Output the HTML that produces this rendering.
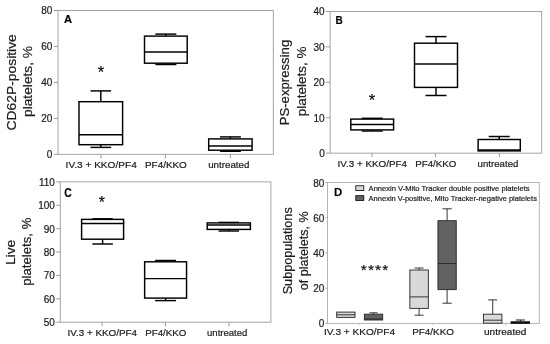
<!DOCTYPE html>
<html><head><meta charset="utf-8"><title>Figure</title>
<style>
html,body{margin:0;padding:0;background:#fff;}
body{width:550px;height:344px;overflow:hidden;}
svg{display:block;font-family:"Liberation Sans", sans-serif;}
text{stroke:#1a1a1a;stroke-width:0.2px;}
</style></head>
<body>
<svg width="550" height="344" viewBox="0 0 550 344">
<rect x="0" y="0" width="550" height="344" fill="#ffffff"/>
<rect x="58.00" y="10.50" width="215.30" height="143.80" fill="none" stroke="#9a9a9a" stroke-width="0.9"/>
<line x1="54.00" y1="154.30" x2="58.00" y2="154.30" stroke="#9a9a9a" stroke-width="1.0"/>
<text x="52.40" y="157.90" font-size="10" text-anchor="end" font-weight="normal" fill="#1a1a1a">0</text>
<line x1="54.00" y1="118.35" x2="58.00" y2="118.35" stroke="#9a9a9a" stroke-width="1.0"/>
<text x="52.40" y="121.95" font-size="10" text-anchor="end" font-weight="normal" fill="#1a1a1a">20</text>
<line x1="54.00" y1="82.40" x2="58.00" y2="82.40" stroke="#9a9a9a" stroke-width="1.0"/>
<text x="52.40" y="86.00" font-size="10" text-anchor="end" font-weight="normal" fill="#1a1a1a">40</text>
<line x1="54.00" y1="46.45" x2="58.00" y2="46.45" stroke="#9a9a9a" stroke-width="1.0"/>
<text x="52.40" y="50.05" font-size="10" text-anchor="end" font-weight="normal" fill="#1a1a1a">60</text>
<line x1="54.00" y1="10.50" x2="58.00" y2="10.50" stroke="#9a9a9a" stroke-width="1.0"/>
<text x="52.40" y="14.10" font-size="10" text-anchor="end" font-weight="normal" fill="#1a1a1a">80</text>
<text x="64.10" y="22.50" font-size="11.2" text-anchor="start" font-weight="bold" fill="#000">A</text>
<text x="16.30" y="82.30" font-size="13.2" text-anchor="middle" fill="#1a1a1a" transform="rotate(-90 16.30 82.30)" textLength="96.20" lengthAdjust="spacingAndGlyphs">CD62P-positive</text>
<text x="32.50" y="81.45" font-size="13.2" text-anchor="middle" fill="#1a1a1a" transform="rotate(-90 32.50 81.45)" textLength="71.10" lengthAdjust="spacingAndGlyphs">platelets, %</text>
<line x1="101.00" y1="154.30" x2="101.00" y2="158.30" stroke="#9a9a9a" stroke-width="1.0"/>
<line x1="165.40" y1="154.30" x2="165.40" y2="158.30" stroke="#9a9a9a" stroke-width="1.0"/>
<line x1="230.40" y1="154.30" x2="230.40" y2="158.30" stroke="#9a9a9a" stroke-width="1.0"/>
<text x="101.20" y="168.20" font-size="9.6" text-anchor="middle" fill="#1a1a1a" textLength="71.20" lengthAdjust="spacingAndGlyphs">IV.3 + KKO/PF4</text>
<text x="165.90" y="168.20" font-size="9.6" text-anchor="middle" fill="#1a1a1a" textLength="41.80" lengthAdjust="spacingAndGlyphs">PF4/KKO</text>
<text x="228.80" y="168.20" font-size="9.6" text-anchor="middle" fill="#1a1a1a" textLength="41.20" lengthAdjust="spacingAndGlyphs">untreated</text>
<line x1="100.80" y1="90.90" x2="100.80" y2="101.70" stroke="#000" stroke-width="1.45"/>
<line x1="90.50" y1="90.90" x2="111.10" y2="90.90" stroke="#000" stroke-width="1.45"/>
<line x1="100.80" y1="144.70" x2="100.80" y2="147.40" stroke="#000" stroke-width="1.45"/>
<line x1="90.50" y1="147.40" x2="111.10" y2="147.40" stroke="#000" stroke-width="1.45"/>
<rect x="79.00" y="101.70" width="43.60" height="43.00" fill="none" stroke="#000" stroke-width="1.45"/>
<line x1="79.00" y1="134.80" x2="122.60" y2="134.80" stroke="#000" stroke-width="1.45"/>
<line x1="165.85" y1="34.10" x2="165.85" y2="36.10" stroke="#000" stroke-width="1.45"/>
<line x1="155.35" y1="34.10" x2="176.35" y2="34.10" stroke="#000" stroke-width="1.45"/>
<line x1="165.85" y1="63.20" x2="165.85" y2="64.50" stroke="#000" stroke-width="1.45"/>
<line x1="155.35" y1="64.50" x2="176.35" y2="64.50" stroke="#000" stroke-width="1.45"/>
<rect x="144.50" y="36.10" width="42.70" height="27.10" fill="none" stroke="#000" stroke-width="1.45"/>
<line x1="144.50" y1="51.90" x2="187.20" y2="51.90" stroke="#000" stroke-width="1.45"/>
<line x1="230.40" y1="136.90" x2="230.40" y2="138.90" stroke="#000" stroke-width="1.45"/>
<line x1="219.90" y1="136.90" x2="240.90" y2="136.90" stroke="#000" stroke-width="1.45"/>
<line x1="230.40" y1="150.20" x2="230.40" y2="151.30" stroke="#000" stroke-width="1.45"/>
<line x1="219.90" y1="151.30" x2="240.90" y2="151.30" stroke="#000" stroke-width="1.45"/>
<rect x="208.70" y="138.90" width="43.40" height="11.30" fill="none" stroke="#000" stroke-width="1.45"/>
<line x1="208.70" y1="146.00" x2="252.10" y2="146.00" stroke="#000" stroke-width="1.45"/>
<text x="100.90" y="77.90" font-size="16.5" text-anchor="middle" font-weight="normal" fill="#000" stroke="none">*</text>
<rect x="330.10" y="11.45" width="211.60" height="141.70" fill="none" stroke="#9a9a9a" stroke-width="0.9"/>
<line x1="326.10" y1="153.15" x2="330.10" y2="153.15" stroke="#9a9a9a" stroke-width="1.0"/>
<text x="324.70" y="156.95" font-size="10" text-anchor="end" font-weight="normal" fill="#1a1a1a">0</text>
<line x1="326.10" y1="117.72" x2="330.10" y2="117.72" stroke="#9a9a9a" stroke-width="1.0"/>
<text x="324.70" y="121.52" font-size="10" text-anchor="end" font-weight="normal" fill="#1a1a1a">10</text>
<line x1="326.10" y1="82.30" x2="330.10" y2="82.30" stroke="#9a9a9a" stroke-width="1.0"/>
<text x="324.70" y="86.10" font-size="10" text-anchor="end" font-weight="normal" fill="#1a1a1a">20</text>
<line x1="326.10" y1="46.88" x2="330.10" y2="46.88" stroke="#9a9a9a" stroke-width="1.0"/>
<text x="324.70" y="50.67" font-size="10" text-anchor="end" font-weight="normal" fill="#1a1a1a">30</text>
<line x1="326.10" y1="11.45" x2="330.10" y2="11.45" stroke="#9a9a9a" stroke-width="1.0"/>
<text x="324.70" y="15.25" font-size="10" text-anchor="end" font-weight="normal" fill="#1a1a1a">40</text>
<text x="335.60" y="23.80" font-size="11.2" text-anchor="start" font-weight="bold" fill="#000" textLength="7.2" lengthAdjust="spacingAndGlyphs">B</text>
<text x="289.50" y="82.55" font-size="13.2" text-anchor="middle" fill="#1a1a1a" transform="rotate(-90 289.50 82.55)" textLength="85.50" lengthAdjust="spacingAndGlyphs">PS-expressing</text>
<text x="305.90" y="81.40" font-size="13.2" text-anchor="middle" fill="#1a1a1a" transform="rotate(-90 305.90 81.40)" textLength="69.60" lengthAdjust="spacingAndGlyphs">platelets, %</text>
<line x1="372.00" y1="153.15" x2="372.00" y2="157.15" stroke="#9a9a9a" stroke-width="1.0"/>
<line x1="435.40" y1="153.15" x2="435.40" y2="157.15" stroke="#9a9a9a" stroke-width="1.0"/>
<line x1="499.40" y1="153.15" x2="499.40" y2="157.15" stroke="#9a9a9a" stroke-width="1.0"/>
<text x="372.30" y="166.50" font-size="9.6" text-anchor="middle" fill="#1a1a1a" textLength="69.40" lengthAdjust="spacingAndGlyphs">IV.3 + KKO/PF4</text>
<text x="435.80" y="166.50" font-size="9.6" text-anchor="middle" fill="#1a1a1a" textLength="41.20" lengthAdjust="spacingAndGlyphs">PF4/KKO</text>
<text x="498.00" y="166.50" font-size="9.6" text-anchor="middle" fill="#1a1a1a" textLength="40.80" lengthAdjust="spacingAndGlyphs">untreated</text>
<line x1="372.20" y1="118.30" x2="372.20" y2="119.10" stroke="#000" stroke-width="1.45"/>
<line x1="361.70" y1="118.30" x2="382.70" y2="118.30" stroke="#000" stroke-width="1.45"/>
<line x1="372.20" y1="129.90" x2="372.20" y2="131.00" stroke="#000" stroke-width="1.45"/>
<line x1="361.70" y1="131.00" x2="382.70" y2="131.00" stroke="#000" stroke-width="1.45"/>
<rect x="350.80" y="119.10" width="42.80" height="10.80" fill="none" stroke="#000" stroke-width="1.45"/>
<line x1="350.80" y1="124.40" x2="393.60" y2="124.40" stroke="#000" stroke-width="1.45"/>
<line x1="436.00" y1="36.60" x2="436.00" y2="43.20" stroke="#000" stroke-width="1.45"/>
<line x1="425.50" y1="36.60" x2="446.50" y2="36.60" stroke="#000" stroke-width="1.45"/>
<line x1="436.00" y1="87.40" x2="436.00" y2="95.50" stroke="#000" stroke-width="1.45"/>
<line x1="425.50" y1="95.50" x2="446.50" y2="95.50" stroke="#000" stroke-width="1.45"/>
<rect x="414.50" y="43.20" width="43.00" height="44.20" fill="none" stroke="#000" stroke-width="1.45"/>
<line x1="414.50" y1="64.00" x2="457.50" y2="64.00" stroke="#000" stroke-width="1.45"/>
<line x1="499.20" y1="136.50" x2="499.20" y2="139.50" stroke="#000" stroke-width="1.45"/>
<line x1="488.70" y1="136.50" x2="509.70" y2="136.50" stroke="#000" stroke-width="1.45"/>
<rect x="478.10" y="139.50" width="42.20" height="11.40" fill="none" stroke="#000" stroke-width="1.45"/>
<line x1="478.10" y1="150.00" x2="520.30" y2="150.00" stroke="#000" stroke-width="1.45"/>
<text x="372.00" y="105.70" font-size="16.5" text-anchor="middle" font-weight="normal" fill="#000" stroke="none">*</text>
<rect x="60.30" y="181.90" width="210.60" height="140.30" fill="none" stroke="#9a9a9a" stroke-width="0.9"/>
<line x1="56.30" y1="322.20" x2="60.30" y2="322.20" stroke="#9a9a9a" stroke-width="1.0"/>
<text x="54.90" y="326.10" font-size="10" text-anchor="end" font-weight="normal" fill="#1a1a1a">50</text>
<line x1="56.30" y1="298.82" x2="60.30" y2="298.82" stroke="#9a9a9a" stroke-width="1.0"/>
<text x="54.90" y="302.72" font-size="10" text-anchor="end" font-weight="normal" fill="#1a1a1a">60</text>
<line x1="56.30" y1="275.43" x2="60.30" y2="275.43" stroke="#9a9a9a" stroke-width="1.0"/>
<text x="54.90" y="279.33" font-size="10" text-anchor="end" font-weight="normal" fill="#1a1a1a">70</text>
<line x1="56.30" y1="252.05" x2="60.30" y2="252.05" stroke="#9a9a9a" stroke-width="1.0"/>
<text x="54.90" y="255.95" font-size="10" text-anchor="end" font-weight="normal" fill="#1a1a1a">80</text>
<line x1="56.30" y1="228.67" x2="60.30" y2="228.67" stroke="#9a9a9a" stroke-width="1.0"/>
<text x="54.90" y="232.57" font-size="10" text-anchor="end" font-weight="normal" fill="#1a1a1a">90</text>
<line x1="56.30" y1="205.28" x2="60.30" y2="205.28" stroke="#9a9a9a" stroke-width="1.0"/>
<text x="54.90" y="209.18" font-size="10" text-anchor="end" font-weight="normal" fill="#1a1a1a">100</text>
<line x1="56.30" y1="181.90" x2="60.30" y2="181.90" stroke="#9a9a9a" stroke-width="1.0"/>
<text x="54.90" y="185.80" font-size="10" text-anchor="end" font-weight="normal" fill="#1a1a1a">110</text>
<text x="64.30" y="197.10" font-size="12" text-anchor="start" font-weight="bold" fill="#000" textLength="7.5" lengthAdjust="spacingAndGlyphs">C</text>
<text x="14.80" y="252.40" font-size="13.2" text-anchor="middle" fill="#1a1a1a" transform="rotate(-90 14.80 252.40)" textLength="25.40" lengthAdjust="spacingAndGlyphs">Live</text>
<text x="31.10" y="251.70" font-size="13.2" text-anchor="middle" fill="#1a1a1a" transform="rotate(-90 31.10 251.70)" textLength="68.20" lengthAdjust="spacingAndGlyphs">platelets, %</text>
<line x1="102.00" y1="322.20" x2="102.00" y2="326.20" stroke="#9a9a9a" stroke-width="1.0"/>
<line x1="165.40" y1="322.20" x2="165.40" y2="326.20" stroke="#9a9a9a" stroke-width="1.0"/>
<line x1="229.00" y1="322.20" x2="229.00" y2="326.20" stroke="#9a9a9a" stroke-width="1.0"/>
<text x="102.30" y="335.80" font-size="9.6" text-anchor="middle" fill="#1a1a1a" textLength="69.40" lengthAdjust="spacingAndGlyphs">IV.3 + KKO/PF4</text>
<text x="165.80" y="335.80" font-size="9.6" text-anchor="middle" fill="#1a1a1a" textLength="41.20" lengthAdjust="spacingAndGlyphs">PF4/KKO</text>
<text x="227.20" y="335.80" font-size="9.6" text-anchor="middle" fill="#1a1a1a" textLength="40.40" lengthAdjust="spacingAndGlyphs">untreated</text>
<line x1="102.60" y1="218.80" x2="102.60" y2="219.40" stroke="#000" stroke-width="1.45"/>
<line x1="92.35" y1="218.80" x2="112.85" y2="218.80" stroke="#000" stroke-width="1.45"/>
<line x1="102.60" y1="239.20" x2="102.60" y2="244.00" stroke="#000" stroke-width="1.45"/>
<line x1="92.35" y1="244.00" x2="112.85" y2="244.00" stroke="#000" stroke-width="1.45"/>
<rect x="81.60" y="219.40" width="42.00" height="19.80" fill="none" stroke="#000" stroke-width="1.45"/>
<line x1="81.60" y1="223.40" x2="123.60" y2="223.40" stroke="#000" stroke-width="1.45"/>
<line x1="165.60" y1="260.50" x2="165.60" y2="261.80" stroke="#000" stroke-width="1.45"/>
<line x1="155.10" y1="260.50" x2="176.10" y2="260.50" stroke="#000" stroke-width="1.45"/>
<line x1="165.60" y1="298.10" x2="165.60" y2="300.60" stroke="#000" stroke-width="1.45"/>
<line x1="155.10" y1="300.60" x2="176.10" y2="300.60" stroke="#000" stroke-width="1.45"/>
<rect x="144.65" y="261.80" width="41.90" height="36.30" fill="none" stroke="#000" stroke-width="1.45"/>
<line x1="144.65" y1="278.60" x2="186.55" y2="278.60" stroke="#000" stroke-width="1.45"/>
<line x1="228.80" y1="222.40" x2="228.80" y2="222.90" stroke="#000" stroke-width="1.45"/>
<line x1="218.55" y1="222.40" x2="239.05" y2="222.40" stroke="#000" stroke-width="1.45"/>
<line x1="228.80" y1="229.40" x2="228.80" y2="231.00" stroke="#000" stroke-width="1.45"/>
<line x1="218.55" y1="231.00" x2="239.05" y2="231.00" stroke="#000" stroke-width="1.45"/>
<rect x="207.20" y="222.90" width="43.20" height="6.50" fill="none" stroke="#000" stroke-width="1.45"/>
<line x1="207.20" y1="225.00" x2="250.40" y2="225.00" stroke="#000" stroke-width="1.45"/>
<text x="101.90" y="207.90" font-size="15.8" text-anchor="middle" font-weight="normal" fill="#000" stroke="none">*</text>
<rect x="327.50" y="182.50" width="211.80" height="140.90" fill="none" stroke="#b4b4b4" stroke-width="1.0"/>
<line x1="325.30" y1="323.40" x2="327.50" y2="323.40" stroke="#a8a8a8" stroke-width="1.0"/>
<text x="324.40" y="327.40" font-size="10" text-anchor="end" font-weight="normal" fill="#1a1a1a">0</text>
<line x1="325.30" y1="288.17" x2="327.50" y2="288.17" stroke="#a8a8a8" stroke-width="1.0"/>
<text x="324.40" y="292.17" font-size="10" text-anchor="end" font-weight="normal" fill="#1a1a1a">20</text>
<line x1="325.30" y1="252.95" x2="327.50" y2="252.95" stroke="#a8a8a8" stroke-width="1.0"/>
<text x="324.40" y="256.95" font-size="10" text-anchor="end" font-weight="normal" fill="#1a1a1a">40</text>
<line x1="325.30" y1="217.72" x2="327.50" y2="217.72" stroke="#a8a8a8" stroke-width="1.0"/>
<text x="324.40" y="221.72" font-size="10" text-anchor="end" font-weight="normal" fill="#1a1a1a">60</text>
<line x1="325.30" y1="182.50" x2="327.50" y2="182.50" stroke="#a8a8a8" stroke-width="1.0"/>
<text x="324.40" y="186.50" font-size="10" text-anchor="end" font-weight="normal" fill="#1a1a1a">80</text>
<text x="334.00" y="195.90" font-size="11.4" text-anchor="start" font-weight="bold" fill="#000">D</text>
<text x="292.50" y="250.80" font-size="13.2" text-anchor="middle" fill="#1a1a1a" transform="rotate(-90 292.50 250.80)" textLength="87.00" lengthAdjust="spacingAndGlyphs">Subpopulations</text>
<text x="308.30" y="250.85" font-size="13.2" text-anchor="middle" fill="#1a1a1a" transform="rotate(-90 308.30 250.85)" textLength="78.90" lengthAdjust="spacingAndGlyphs">of platelets, %</text>
<line x1="359.00" y1="323.40" x2="359.00" y2="325.40" stroke="#b0b0b0" stroke-width="0.8"/>
<line x1="433.00" y1="323.40" x2="433.00" y2="325.40" stroke="#b0b0b0" stroke-width="0.8"/>
<line x1="506.00" y1="323.40" x2="506.00" y2="325.40" stroke="#b0b0b0" stroke-width="0.8"/>
<text x="359.50" y="335.40" font-size="9.9" text-anchor="middle" fill="#1a1a1a" textLength="71.00" lengthAdjust="spacingAndGlyphs">IV.3 + KKO/PF4</text>
<text x="433.10" y="335.40" font-size="9.9" text-anchor="middle" fill="#1a1a1a" textLength="41.80" lengthAdjust="spacingAndGlyphs">PF4/KKO</text>
<text x="505.20" y="335.40" font-size="9.9" text-anchor="middle" fill="#1a1a1a" textLength="42.40" lengthAdjust="spacingAndGlyphs">untreated</text>
<rect x="355.80" y="185.80" width="8.00" height="4.80" fill="#d9d9d9" stroke="#000" stroke-width="0.8"/>
<rect x="355.80" y="195.70" width="8.00" height="4.80" fill="#626262" stroke="#000" stroke-width="0.8"/>
<text x="368.60" y="191.00" font-size="7.9" text-anchor="start" font-weight="normal" fill="#1a1a1a" textLength="161.0" lengthAdjust="spacingAndGlyphs" stroke="none">Annexin V-Mito Tracker double positive platelets</text>
<text x="368.60" y="200.70" font-size="7.9" text-anchor="start" font-weight="normal" fill="#1a1a1a" textLength="168.3" lengthAdjust="spacingAndGlyphs" stroke="none">Annexin V-positive, Mito Tracker-negative platelets</text>
<rect x="336.70" y="312.10" width="18.30" height="5.30" fill="#d9d9d9" stroke="#2e2e2e" stroke-width="0.95"/>
<line x1="336.70" y1="314.80" x2="355.00" y2="314.80" stroke="#2e2e2e" stroke-width="0.95"/>
<line x1="373.50" y1="312.80" x2="373.50" y2="314.20" stroke="#2a2a2a" stroke-width="0.95"/>
<line x1="369.40" y1="312.80" x2="377.60" y2="312.80" stroke="#2a2a2a" stroke-width="0.95"/>
<rect x="364.35" y="314.20" width="18.30" height="5.80" fill="#626262" stroke="#2a2a2a" stroke-width="0.95"/>
<line x1="364.35" y1="319.00" x2="382.65" y2="319.00" stroke="#2a2a2a" stroke-width="0.95"/>
<line x1="419.10" y1="268.00" x2="419.10" y2="270.00" stroke="#2e2e2e" stroke-width="0.95"/>
<line x1="414.60" y1="268.00" x2="423.60" y2="268.00" stroke="#2e2e2e" stroke-width="0.95"/>
<line x1="419.10" y1="308.40" x2="419.10" y2="315.20" stroke="#2e2e2e" stroke-width="0.95"/>
<line x1="414.60" y1="315.20" x2="423.60" y2="315.20" stroke="#2e2e2e" stroke-width="0.95"/>
<rect x="409.85" y="270.00" width="18.50" height="38.40" fill="#d9d9d9" stroke="#2e2e2e" stroke-width="0.95"/>
<line x1="409.85" y1="296.90" x2="428.35" y2="296.90" stroke="#2e2e2e" stroke-width="0.95"/>
<line x1="447.10" y1="208.80" x2="447.10" y2="220.70" stroke="#2a2a2a" stroke-width="0.95"/>
<line x1="442.40" y1="208.80" x2="451.80" y2="208.80" stroke="#2a2a2a" stroke-width="0.95"/>
<line x1="447.10" y1="289.60" x2="447.10" y2="303.20" stroke="#2a2a2a" stroke-width="0.95"/>
<line x1="442.40" y1="303.20" x2="451.80" y2="303.20" stroke="#2a2a2a" stroke-width="0.95"/>
<rect x="437.95" y="220.70" width="18.30" height="68.90" fill="#626262" stroke="#2a2a2a" stroke-width="0.95"/>
<line x1="437.95" y1="263.50" x2="456.25" y2="263.50" stroke="#2a2a2a" stroke-width="0.95"/>
<line x1="492.70" y1="299.90" x2="492.70" y2="314.20" stroke="#2e2e2e" stroke-width="0.95"/>
<line x1="488.20" y1="299.90" x2="497.20" y2="299.90" stroke="#2e2e2e" stroke-width="0.95"/>
<rect x="483.45" y="314.20" width="18.50" height="9.00" fill="#d9d9d9" stroke="#2e2e2e" stroke-width="0.95"/>
<line x1="483.45" y1="320.20" x2="501.95" y2="320.20" stroke="#2e2e2e" stroke-width="0.95"/>
<line x1="520.30" y1="320.00" x2="520.30" y2="321.80" stroke="#111" stroke-width="0.95"/>
<line x1="515.80" y1="320.00" x2="524.80" y2="320.00" stroke="#111" stroke-width="0.95"/>
<rect x="511.05" y="321.80" width="18.50" height="1.50" fill="#000" stroke="#111" stroke-width="0.95"/>
<line x1="511.05" y1="322.60" x2="529.55" y2="322.60" stroke="#111" stroke-width="0.95"/>
<text x="375.10" y="275.40" font-size="15.5" text-anchor="middle" font-weight="normal" fill="#000" stroke="none" letter-spacing="1.12">****</text>
</svg>
</body></html>
